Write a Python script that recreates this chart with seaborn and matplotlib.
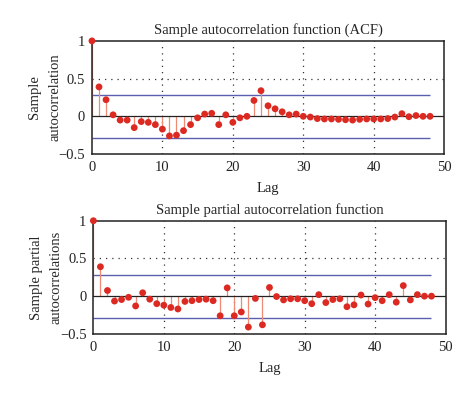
import numpy as np
import pandas as pd
import seaborn as sns
import matplotlib.pyplot as plt

# values
lags = list(range(49))
acf_vals = [1.0, 0.39, 0.22, 0.02, -0.05, -0.05, -0.15, -0.07, -0.08, -0.11,
            -0.17, -0.26, -0.25, -0.19, -0.11, -0.02, 0.03, 0.04, -0.11, 0.02,
            -0.08, -0.02, 0.0, 0.21, 0.34, 0.14, 0.10, 0.06, 0.02, 0.03,
            0.0, -0.01, -0.03, -0.035, -0.035, -0.04, -0.045, -0.05, -0.04, -0.035,
            -0.035, -0.035, -0.03, -0.01, 0.035, -0.005, 0.01, 0.0, 0.0]
pacf_vals = [1.0, 0.39, 0.075, -0.065, -0.045, -0.015, -0.13, 0.045, -0.04, -0.10,
             -0.12, -0.15, -0.17, -0.07, -0.06, -0.045, -0.04, -0.06, -0.26, 0.11,
             -0.26, -0.21, -0.41, -0.03, -0.38, 0.115, -0.005, -0.05, -0.035, -0.035,
             -0.06, -0.10, 0.02, -0.085, -0.045, -0.035, -0.14, -0.115, 0.015, -0.105,
             -0.02, -0.06, 0.02, -0.08, 0.14, -0.05, 0.02, 0.0, 0.0]
conf_bound = 0.285

titles = ['Sample autocorrelation function (ACF)', 'Sample partial autocorrelation function']
ylabels = ['Sample\nautocorrelation', 'Sample partial\nautocorrelations']

sns.set_style('white')
plt.rcParams['font.family'] = ['Liberation Serif', 'DejaVu Serif']

fig = plt.figure(figsize=(4.74, 3.97), dpi=100)
axes = [fig.add_axes([0.194, 0.612, 0.743, 0.285]),
        fig.add_axes([0.197, 0.159, 0.743, 0.285])]

for ax, vals, title, ylab in zip(axes, [acf_vals, pacf_vals], titles, ylabels):
    df = pd.DataFrame({'lag': lags, 'value': vals})

    # dotted grid underneath everything
    for gx in [10, 20, 30, 40]:
        ax.axvline(gx, color='#333333', ls=(0, (1, 4)), lw=0.9, zorder=0)
    ax.axhline(0.5, color='#333333', ls=(0, (1, 4)), lw=0.9, zorder=0)

    ax.hlines([conf_bound, -conf_bound], 0, 48, color='#5b5fb0', lw=1.0, zorder=1)
    ax.vlines(df['lag'], 0, df['value'], color='#ef8a74', lw=0.9, zorder=2)
    ax.axhline(0, color='#222222', lw=0.9, zorder=2)
    sns.scatterplot(data=df, x='lag', y='value', ax=ax, color='#dc2a22',
                    s=24, edgecolor='none', zorder=3, clip_on=False)

    ax.set_xlim(0, 50)
    ax.set_ylim(-0.5, 1)
    ax.set_xticks([0, 10, 20, 30, 40, 50])
    ax.set_yticks([-0.5, 0, 0.5, 1])
    ax.set_yticklabels(['\u22120.5', '0', '0.5', '1'])
    ax.tick_params(axis='x', labelsize=10.5, direction='in', length=2, pad=5, colors='#222222')
    ax.tick_params(axis='y', labelsize=10.5, direction='in', length=2, pad=5, colors='#222222')
    for sp in ax.spines.values():
        sp.set_color('#222222')
        sp.set_linewidth(1.1)
    ax.set_title(title, fontsize=10.5, pad=5)
    ax.set_xlabel('Lag', fontsize=10.5, labelpad=6)
    ax.set_ylabel(ylab, fontsize=10.5, labelpad=-2, linespacing=1.7)

fig.savefig('out.png', dpi=100)
